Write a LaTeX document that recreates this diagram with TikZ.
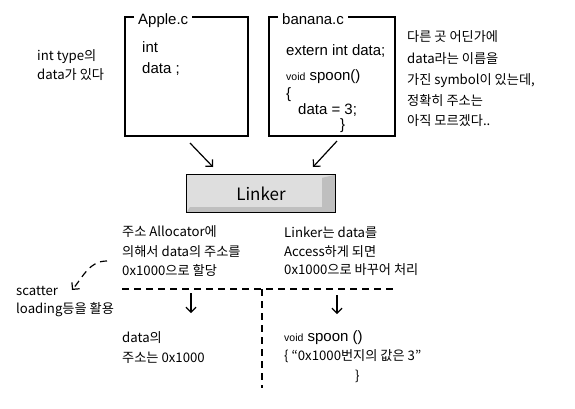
\documentclass[tikz,border=0pt]{standalone}
\usepackage{fontspec}
\setmainfont{Liberation Sans}
\newfontfamily\kr{Noto Sans CJK KR}
\usetikzlibrary{arrows, arrows.meta, calc}
\newcommand{\vd}{{\fontsize{10.5}{12}\selectfont void}}

\begin{document}
\begin{tikzpicture}[x=1pt, y=-1pt,
        code/.style={anchor=base west, inner sep=0pt, font=\fontsize{15}{17}\selectfont},
        note/.style={anchor=base west, inner sep=0pt, font=\kr\fontsize{13.2}{15}\selectfont},
        title/.style={anchor=base west, inner xsep=4pt, inner ysep=0pt, font=\fontsize{15}{17}\selectfont},
        box/.style={line width=1.2pt},
        arr/.style={-{Straight Barb[length=5pt, width=10pt]}, line width=1.2pt},
        dsh/.style={line width=1.2pt, dash pattern=on 7pt off 5pt}]
        \useasboundingbox (0,0) rectangle (575,408);

        % source files
        \node[title] (appletitle) at (134,24) {Apple.c};
        \draw[box] (appletitle.west |- 0,17) -- (125,17) -- (125,136) -- (248,136) -- (248,17) -- (appletitle.east |- 0,17);
        \node[code] (int) at (142,52) {int};
        \node[code] (data) at (142,73) {data ;};

        \node[title] (bananatitle) at (278,24) {banana.c};
        \draw[box] (bananatitle.west |- 0,17) -- (269,17) -- (269,136) -- (395,136) -- (395,17) -- (bananatitle.east |- 0,17);
        \node[code] (ext) at (286,55) {extern int data;};
        \node[code] (spoon) at (286,80) {\vd{} spoon()};
        \node[code] (open) at (286,98) {\{};
        \node[code] (assign) at (298,114) {data = 3;};
        \node[code] (close) at (340,129) {\}};

        \node[note] (n1) at (37,60) {int type의};
        \node[note] (n2) at (37,79) {data가 있다};

        \node[note] (m1) at (407,41) {다른 곳 어딘가에};
        \node[note] (m2) at (407,63) {data라는 이름을};
        \node[note] (m3) at (407,84) {가진 symbol이 있는데,};
        \node[note] (m4) at (407,105) {정확히 주소는};
        \node[note] (m5) at (407,125) {아직 모르겠다..};

        % linker
        \node[minimum width=148pt, minimum height=37pt, fill=black!13, inner sep=0pt,
              font=\kr\fontsize{17}{19}\selectfont] (linker) at (261,193.5) {Linker};
        \fill[black!25] (linker.north east) -- (linker.south east) -- (linker.south west)
            -- ($(linker.south west)+(3,-5)$) -- ($(linker.south east)+(-13,-5)$)
            -- ($(linker.north east)+(-13,3)$) -- cycle;
        \draw[box] (linker.north west) rectangle (linker.south east);

        \coordinate (a1) at (190,143);
        \coordinate (a2) at (213,167);
        \coordinate (b1) at (337,141);
        \coordinate (b2) at (313,167);
        \draw[arr] (a1) -- (a2);
        \draw[arr] (b1) -- (b2);

        \node[note] (p1) at (122,236) {주소 Allocator에};
        \node[note] (p2) at (122,256) {의해서 data의 주소를};
        \node[note] (p3) at (122,275) {0x1000으로 할당};

        \node[note] (q1) at (284,237) {Linker는 data를};
        \node[note] (q2) at (284,256) {Access하게 되면};
        \node[note] (q3) at (284,274) {0x1000으로 바꾸어 처리};

        % dashed split
        \coordinate (h1) at (122,289);
        \coordinate (h2) at (397,289);
        \coordinate (v1) at (262,289);
        \coordinate (v2) at (262,388);
        \draw[dsh] (h1) -- (h2);
        \draw[dsh] (v1) -- (v2);

        \coordinate (s1) at (107,261);
        \coordinate (s2) at (72,290);
        \draw[arr, dsh] (s1) to[out=180, in=50] (s2);
        \node[note] (r1) at (16,295) {scatter};
        \node[note] (r2) at (16,313) {loading등을 활용};

        \coordinate (c1) at (191,293);
        \coordinate (c2) at (191,313);
        \coordinate (d1) at (337,295);
        \coordinate (d2) at (337,314);
        \draw[arr] (c1) -- (c2);
        \draw[arr] (d1) -- (d2);

        \node[note] (t1) at (122,342) {data의};
        \node[note] (t2) at (122,362) {주소는 0x1000};

        \node[code] (u1) at (284,341) {\vd{} spoon ()};
        \node[note] (u2) at (284,360) {\{ “0x1000번지의 값은 3”};
        \node[note] (u3) at (355,380) {\}};
\end{tikzpicture}
\end{document}
